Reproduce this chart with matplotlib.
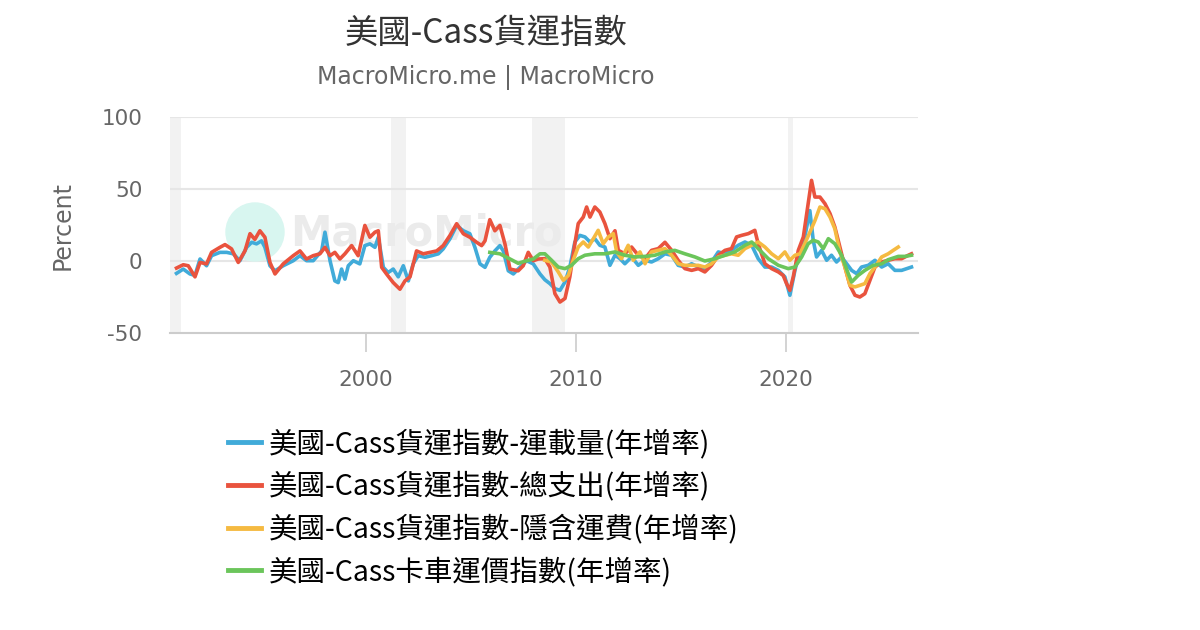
import matplotlib
matplotlib.use("Agg")
import matplotlib.pyplot as plt
from matplotlib.patches import Ellipse

plt.rcParams['font.family'] = ['Noto Sans CJK TC', 'DejaVu Sans']

title = "美國-Cass貨運指數"
subtitle = "MacroMicro.me | MacroMicro"
y_label = "Percent"
series_names = [
    "美國-Cass貨運指數-運載量(年增率)",
    "美國-Cass貨運指數-總支出(年增率)",
    "美國-Cass貨運指數-隱含運費(年增率)",
    "美國-Cass卡車運價指數(年增率)",
]
colors = ['#41abd9', '#e9533e', '#f5ba41', '#6bc55b']

x_ticks = [2000, 2010, 2020]
y_ticks = [-50, 0, 50, 100]
recessions = [(1990.58, 1991.2), (2001.2, 2001.9), (2007.92, 2009.5), (2020.12, 2020.32)]

# 運載量 (shipments)
vol_years = [1990.98, 1991.30, 1991.62, 1991.86, 1992.10, 1992.41, 1992.65, 1993.05, 1993.37, 1993.68,
             1994.00, 1994.32, 1994.56, 1994.79, 1995.03, 1995.19, 1995.43, 1995.67, 1996.06, 1996.54,
             1996.86, 1997.17, 1997.49, 1997.89, 1998.05, 1998.29, 1998.52, 1998.68, 1998.84, 1999.00,
             1999.16, 1999.40, 1999.71, 1999.95, 2000.19, 2000.43, 2000.59, 2000.83, 2001.06, 2001.30,
             2001.54, 2001.78, 2002.02, 2002.25, 2002.49, 2002.81, 2003.13, 2003.45, 2003.68, 2004.00,
             2004.32, 2004.64, 2004.95, 2005.19, 2005.43, 2005.67, 2005.90, 2006.14, 2006.38, 2006.54,
             2006.78, 2007.02, 2007.33, 2007.65, 2007.97, 2008.29, 2008.52, 2008.76, 2009.00, 2009.24,
             2009.48, 2009.71, 2009.95, 2010.19, 2010.43, 2010.67, 2010.90, 2011.14, 2011.38, 2011.62,
             2011.86, 2012.10, 2012.33, 2012.65, 2012.97, 2013.29, 2013.60, 2013.92, 2014.24, 2014.56,
             2014.87, 2015.19, 2015.51, 2015.83, 2016.14, 2016.46, 2016.78, 2017.10, 2017.41, 2017.73,
             2018.05, 2018.37, 2018.68, 2019.00, 2019.32, 2019.64, 2019.95, 2020.19, 2020.43, 2020.67,
             2020.90, 2021.14, 2021.30, 2021.46, 2021.70, 2021.94, 2022.17, 2022.41, 2022.65, 2022.89,
             2023.13, 2023.37, 2023.60, 2023.92, 2024.24, 2024.56, 2024.87, 2025.19, 2025.51, 2025.75,
             2025.98]
vol_values = [-8.6, -5.6, -9.0, -10.0, 1.4, -3.3, 3.7, 6.0, 6.0, 5.0,
              0.2, 9.5, 13.0, 11.9, 14.0, 9.5, -3.3, -6.8, -3.3, 0.2,
              3.7, 0.2, 0.2, 7.0, 20.0, 0.2, -13.8, -15.0, -5.6, -12.6,
              -3.3, 0.2, -2.0, 10.7, 11.9, 9.5, 16.5, -4.4, -8.0, -5.6,
              -11.0, -3.3, -13.8, -2.0, 3.7, 2.6, 3.7, 5.0, 8.4, 15.4,
              24.7, 21.0, 18.9, 9.5, -2.0, -4.4, 2.6, 7.0, 10.7, 7.0,
              -6.8, -9.0, -4.4, 0.2, -2.0, -9.0, -13.0, -15.7, -19.2, -20.4,
              -14.6, -4.2, 13.2, 17.8, 16.7, 13.2, 15.5, 10.9, 9.7, -3.0,
              4.0, 1.6, -1.9, 2.8, -3.0, 0.5, -0.7, 1.6, 5.0, 4.0,
              -3.0, -4.2, -1.9, -4.2, -5.3, -0.7, 6.3, 5.0, 7.4, 10.9,
              13.2, 10.9, 1.6, -4.2, -4.2, -6.5, -11.0, -23.8, -6.5, 7.4,
              16.7, 35.0, 14.4, 2.8, 7.4, 0.5, 4.0, -0.7, 2.8, -1.9,
              -6.5, -8.8, -4.2, -3.0, 0.5, -4.2, -1.9, -6.5, -6.5, -5.3,
              -4.2]

# 總支出 (expenditures)
exp_years = [1990.98, 1991.30, 1991.54, 1991.86, 1992.10, 1992.41, 1992.65, 1993.05, 1993.29, 1993.60,
             1993.92, 1994.24, 1994.48, 1994.71, 1994.95, 1995.19, 1995.43, 1995.67, 1996.06, 1996.54,
             1996.86, 1997.17, 1997.49, 1997.81, 1998.05, 1998.29, 1998.52, 1998.76, 1999.00, 1999.32,
             1999.63, 1999.95, 2000.19, 2000.43, 2000.59, 2000.75, 2000.98, 2001.30, 2001.62, 2001.86,
             2002.10, 2002.41, 2002.73, 2003.05, 2003.37, 2003.68, 2004.00, 2004.32, 2004.64, 2004.95,
             2005.27, 2005.51, 2005.67, 2005.90, 2006.14, 2006.38, 2006.62, 2006.86, 2007.25, 2007.49,
             2007.73, 2007.97, 2008.21, 2008.52, 2008.76, 2009.00, 2009.24, 2009.48, 2009.71, 2009.95,
             2010.11, 2010.35, 2010.51, 2010.67, 2010.90, 2011.14, 2011.38, 2011.62, 2011.86, 2012.02,
             2012.33, 2012.65, 2012.97, 2013.29, 2013.60, 2013.92, 2014.24, 2014.56, 2014.87, 2015.19,
             2015.51, 2015.83, 2016.14, 2016.46, 2016.78, 2017.10, 2017.41, 2017.65, 2017.89, 2018.21,
             2018.52, 2018.68, 2019.00, 2019.32, 2019.64, 2019.87, 2020.03, 2020.19, 2020.35, 2020.59,
             2020.83, 2021.06, 2021.22, 2021.38, 2021.62, 2021.86, 2022.10, 2022.33, 2022.57, 2022.81,
             2023.05, 2023.29, 2023.52, 2023.76, 2024.00, 2024.24, 2024.56, 2024.87, 2025.19, 2025.51,
             2025.83, 2025.98]
exp_values = [-4.9, -2.6, -3.3, -11.0, -1.0, -2.0, 6.0, 9.5, 11.4, 8.4,
              -1.0, 7.0, 19.0, 15.0, 21.0, 16.5, -1.0, -9.0, -2.0, 3.7,
              7.0, 1.4, 3.7, 5.0, 9.5, 3.7, 6.0, 1.4, 5.0, 10.7,
              3.7, 24.7, 16.5, 20.0, 21.0, -4.4, -9.0, -15.0, -19.6, -13.8,
              -11.0, 7.0, 5.0, 6.0, 7.0, 10.7, 17.7, 25.9, 18.9, 16.5,
              13.0, 10.7, 14.0, 28.7, 21.0, 24.7, 11.9, -5.6, -6.8, -3.3,
              6.0, 0.2, 1.4, 1.6, -4.2, -22.7, -28.5, -26.0, -11.0, 12.0,
              26.0, 30.5, 37.5, 30.5, 37.5, 34.0, 26.0, 15.5, 21.0, 7.4,
              5.0, 9.7, 4.0, 1.6, 7.4, 8.6, 13.0, 7.4, 0.5, -5.3,
              -6.5, -5.3, -7.6, -3.0, 4.0, 7.4, 8.6, 16.7, 17.8, 19.0,
              21.3, 12.0, -1.9, -5.3, -7.6, -10.0, -15.7, -20.4, -11.0, 7.4,
              16.7, 39.8, 56.0, 44.4, 44.4, 39.8, 32.9, 23.6, 9.7, -4.2,
              -16.9, -23.8, -25.0, -22.7, -13.4, -4.2, -0.7, 0.5, 1.6, 1.6,
              4.0, 5.0]

# 隱含運費 (implied rates)
rate_years = [2008.52, 2008.84, 2009.16, 2009.40, 2009.64, 2009.87, 2010.11, 2010.35, 2010.59, 2010.83,
              2011.06, 2011.30, 2011.54, 2011.78, 2011.94, 2012.17, 2012.49, 2012.73, 2013.05, 2013.29,
              2013.60, 2013.92, 2014.24, 2014.56, 2014.87, 2015.19, 2015.51, 2015.83, 2016.14, 2016.46,
              2016.78, 2017.10, 2017.41, 2017.73, 2018.05, 2018.37, 2018.68, 2019.00, 2019.32, 2019.64,
              2019.95, 2020.19, 2020.43, 2020.67, 2020.90, 2021.14, 2021.38, 2021.62, 2021.86, 2022.10,
              2022.33, 2022.57, 2022.81, 2023.05, 2023.29, 2023.52, 2023.76, 2024.00, 2024.24, 2024.56,
              2024.87, 2025.11, 2025.35]
rate_values = [0.5, -0.7, -7.6, -13.4, -10.0, 0.5, 9.7, 13.2, 9.7, 15.5,
               21.3, 12.0, 16.7, 19.0, 6.3, 1.6, 10.9, 0.5, 6.3, -1.9,
               6.3, 7.4, 8.6, 4.0, -1.9, -3.0, -3.0, -3.0, -4.2, -1.9,
               2.8, 4.0, 5.0, 4.0, 8.6, 10.9, 13.2, 9.7, 5.0, 1.6,
               6.3, 0.5, 4.0, 5.0, 12.0, 20.0, 28.0, 37.5, 36.3, 30.5,
               22.4, 6.3, -4.2, -16.9, -18.0, -16.9, -15.7, -8.8, -4.2, 2.8,
               5.0, 7.4, 9.7]

# 卡車運價指數 (truckload linehaul index)
truck_years = [2005.90, 2006.38, 2006.86, 2007.25, 2007.65, 2007.97, 2008.29, 2008.52, 2008.84, 2009.16,
               2009.48, 2009.79, 2010.11, 2010.43, 2010.90, 2011.38, 2011.86, 2012.33, 2012.81, 2013.29,
               2013.76, 2014.24, 2014.71, 2015.19, 2015.67, 2016.14, 2016.62, 2017.10, 2017.57, 2018.05,
               2018.37, 2018.68, 2019.16, 2019.64, 2020.11, 2020.43, 2020.75, 2021.06, 2021.30, 2021.54,
               2021.78, 2022.02, 2022.33, 2022.65, 2022.97, 2023.13, 2023.44, 2023.76, 2024.16, 2024.56,
               2024.87, 2025.35, 2025.67, 2025.98]
truck_values = [6.0, 5.0, 1.4, -1.6, 0.2, 1.4, 5.0, 5.0, 0.5, -4.2,
                -5.3, -3.0, 1.6, 4.0, 5.0, 5.0, 6.3, 4.0, 2.8, 3.2,
                4.0, 6.3, 7.4, 5.0, 2.8, 0.0, 1.6, 4.0, 6.3, 10.9,
                13.2, 8.6, 1.6, -3.0, -5.3, -4.2, 2.8, 12.0, 14.4, 13.2,
                8.6, 15.5, 12.0, 4.0, -8.8, -14.6, -10.0, -6.5, -3.0, -1.9,
                0.9, 3.2, 3.2, 4.0]

fig = plt.figure(figsize=(12, 6.3), dpi=100)
ax = fig.add_axes([170/1200, 1-333/630, (918-170)/1200, (333-117)/630])

# watermark
ax.add_patch(Ellipse((255/1200, 1-232/630), 58/1200, 58/630, transform=fig.transFigure,
                     color='#d8f6f0', zorder=0.3, clip_on=False))
ax.text(290/1200, 1-234/630, "MacroMicro", transform=fig.transFigure, fontsize=30,
        color='#ebebeb', fontweight='bold', va='center', ha='left', zorder=0.4,
        family='DejaVu Sans')

for a, b in recessions:
    ax.axvspan(a, b, color='#f2f2f2', zorder=0.1, lw=0)

for yt in y_ticks[1:]:
    ax.axhline(yt, color='#e6e6e6', lw=1.5, zorder=0.2)

lines = []
data = [(vol_years, vol_values), (exp_years, exp_values), (rate_years, rate_values), (truck_years, truck_values)]
for (xs, ys), c, n in zip(data, colors, series_names):
    l, = ax.plot(xs, ys, color=c, lw=2.6, label=n, zorder=2, solid_joinstyle='round')
    lines.append(l)

ax.set_xlim(1990.67, 2026.29)
ax.set_ylim(-50, 100)
ax.set_xticks(x_ticks)
ax.set_xticklabels([str(v) for v in x_ticks])
ax.set_yticks(y_ticks)
ax.set_yticklabels([str(v) for v in y_ticks])
for s in ['top', 'right', 'left']:
    ax.spines[s].set_visible(False)
ax.spines['bottom'].set_color('#cccccc')
ax.spines['bottom'].set_linewidth(1.5)
ax.tick_params(axis='x', length=14, width=1.2, color='#cccccc', pad=13, labelsize=15.5, labelcolor='#666666')
ax.tick_params(axis='y', length=0, pad=20, labelsize=15.5, labelcolor='#666666')
for t in ax.get_xticklabels() + ax.get_yticklabels():
    t.set_family('DejaVu Sans')
ax.set_ylabel(y_label, fontsize=17, color='#666666', family='DejaVu Sans', labelpad=19)

fig.text(486/1200, 1-33/630, title, ha='center', va='center', fontsize=24, color='#333333')
fig.text(486/1200, 1-78/630, subtitle, ha='center', va='center', fontsize=17, color='#666666',
         family='DejaVu Sans')

fig.legend(handles=lines, loc='upper left', bbox_to_anchor=(228/1200, 1-429/630), frameon=False,
           fontsize=20.5, handlelength=1.15, handletextpad=0.3, labelspacing=0.45,
           borderaxespad=0, borderpad=0)
for l in fig.legends[0].get_lines():
    l.set_linewidth(3.5)

fig.savefig('out.png', dpi=100)
